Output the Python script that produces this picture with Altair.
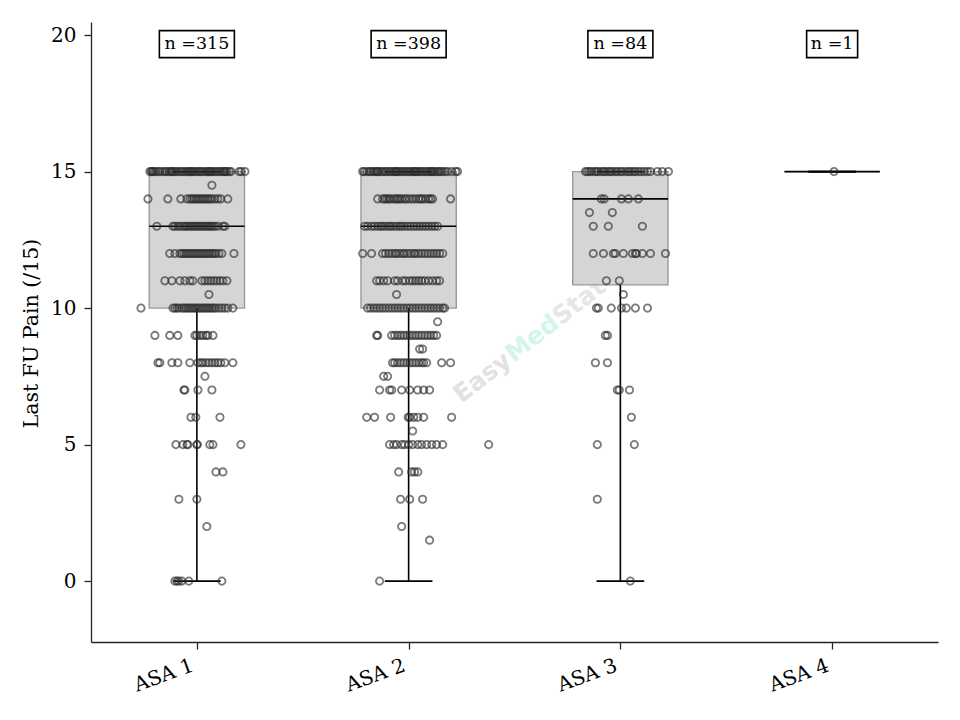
import json
import altair as alt
import pandas as pd

# ---------------- data ----------------
categories = ["ASA 1", "ASA 2", "ASA 3", "ASA 4"]
cat_pos = [1, 2, 3, 4]
n_labels = ["n =315", "n =398", "n =84", "n =1"]
n_label_value = 19.67

box_q1 = [10, 10, 10.85, 15]
box_median = [13, 13, 14, 15]
box_q3 = [15, 15, 15, 15]
whisker_low = [0, 0, 0, 15]
whisker_high = [15, 15, 15, 15]

# jittered points: score -> horizontal jitter (category units)
asa1_points = {
    15: [-0.222, -0.215, -0.205, -0.196, -0.184, -0.175, -0.163, -0.151, -0.144, -0.132, -0.123, -0.113,
         -0.104, -0.095, -0.083, -0.074, -0.066, -0.054, -0.045, -0.038, -0.026, -0.017, -0.009, 0.002,
         0.011, 0.019, 0.028, 0.040, 0.049, 0.057, 0.068, 0.076, 0.087, 0.095, 0.106, 0.114, 0.125,
         0.134, 0.142, 0.153, 0.161, 0.200, 0.210, 0.227, -0.210, -0.120, -0.030, 0.060, 0.130],
    14.5: [0.071],
    14: [-0.231, -0.137, -0.076, -0.047, -0.033, -0.024, -0.014, -0.005, 0.005, 0.014, 0.024, 0.033,
         0.043, 0.052, 0.062, 0.071, 0.085, 0.099, 0.113, 0.146],
    13: [-0.189, -0.113, -0.104, -0.090, -0.080, -0.066, -0.057, -0.047, -0.038, -0.028, -0.019, -0.009,
         0.000, 0.009, 0.019, 0.028, 0.038, 0.047, 0.057, 0.066, 0.076, 0.085, 0.099, 0.123, 0.132],
    12: [-0.128, -0.104, -0.080, -0.071, -0.061, -0.052, -0.043, -0.033, -0.024, -0.014, -0.005, 0.005,
         0.014, 0.024, 0.033, 0.043, 0.052, 0.061, 0.071, 0.080, 0.090, 0.104, 0.118, 0.175],
    11: [-0.151, -0.118, -0.080, -0.057, -0.033, -0.019, 0.024, 0.038, 0.052, 0.066, 0.080, 0.094,
         0.109, 0.123, 0.142],
    10.5: [0.057],
    10: [-0.264, -0.113, -0.104, -0.094, -0.085, -0.071, -0.061, -0.052, -0.043, -0.033, -0.024, -0.014,
         -0.005, 0.005, 0.014, 0.024, 0.033, 0.043, 0.052, 0.061, 0.071, 0.080, 0.090, 0.104, 0.118,
         0.132, 0.146, 0.170],
    9: [-0.198, -0.128, -0.090, -0.009, 0.000, 0.014, 0.028, 0.043, 0.052, 0.076],
    8: [-0.184, -0.175, -0.118, -0.090, -0.033, 0.005, 0.019, 0.028, 0.043, 0.057, 0.071, 0.085, 0.099,
        0.113, 0.132, 0.170],
    7.5: [0.038],
    7: [-0.061, -0.057, 0.005, 0.071],
    6: [-0.028, -0.005, 0.109],
    5: [-0.099, -0.066, -0.047, -0.042, 0.000, 0.002, 0.061, 0.076, 0.208],
    4: [0.090, 0.123],
    3: [-0.085, 0.000],
    2: [0.047],
    0: [-0.104, -0.094, -0.085, -0.071, -0.038, 0.118],
}
asa2_points = {
    15: [-0.217, -0.210, -0.198, -0.186, -0.179, -0.168, -0.160, -0.149, -0.142, -0.130, -0.123, -0.111,
         -0.104, -0.092, -0.085, -0.074, -0.066, -0.055, -0.047, -0.036, -0.028, -0.017, -0.009, 0.002,
         0.009, 0.021, 0.028, 0.040, 0.047, 0.059, 0.066, 0.078, 0.085, 0.097, 0.104, 0.116, 0.123,
         0.135, 0.142, 0.151, 0.160, 0.172, 0.184, 0.203, 0.222, 0.231, -0.150, -0.060, 0.030, 0.110],
    14: [-0.146, -0.123, -0.113, -0.104, -0.094, -0.085, -0.071, -0.061, -0.052, -0.043, -0.033, -0.019,
         -0.009, 0.005, 0.019, 0.033, 0.047, 0.057, 0.066, 0.080, 0.094, 0.104, 0.113, 0.198],
    13: [-0.208, -0.194, -0.175, -0.161, -0.146, -0.132, -0.123, -0.109, -0.094, -0.085, -0.071, -0.057,
         -0.043, -0.033, -0.019, -0.005, 0.009, 0.024, 0.038, 0.052, 0.066, 0.080, 0.094, 0.109, 0.123,
         0.137],
    12: [-0.217, -0.175, -0.123, -0.109, -0.094, -0.080, -0.066, -0.057, -0.043, -0.028, -0.019, -0.005,
         0.009, 0.024, 0.033, 0.047, 0.061, 0.076, 0.090, 0.104, 0.118, 0.132, 0.146, 0.161],
    11: [-0.151, -0.137, -0.118, -0.099, -0.066, -0.052, -0.028, -0.014, 0.005, 0.019, 0.033, 0.047,
         0.061, 0.076, 0.094, 0.113, 0.132, 0.146],
    10.5: [-0.057],
    10: [-0.194, -0.180, -0.165, -0.151, -0.137, -0.123, -0.109, -0.094, -0.080, -0.066, -0.052, -0.038,
         -0.024, -0.009, 0.005, 0.019, 0.033, 0.047, 0.061, 0.076, 0.090, 0.104, 0.118, 0.132, 0.146,
         0.161, 0.170],
    9.5: [0.137],
    9: [-0.151, -0.146, -0.080, -0.066, -0.052, -0.038, -0.024, -0.009, 0.005, 0.019, 0.033, 0.047,
        0.061, 0.076, 0.090, 0.104, 0.118, 0.132],
    8.5: [0.052, 0.066],
    8: [-0.076, -0.066, -0.052, -0.038, -0.024, -0.009, 0.005, 0.019, 0.033, 0.047, 0.061, 0.071, 0.085,
        0.156, 0.198],
    7.5: [-0.118, -0.099],
    7: [-0.137, -0.090, -0.080, -0.033, 0.005, 0.043, 0.071, 0.099],
    6: [-0.198, -0.161, -0.085, -0.002, 0.005, 0.024, 0.043, 0.071, 0.203],
    5.5: [0.019],
    5: [-0.090, -0.071, -0.057, -0.033, -0.019, 0.000, 0.019, 0.043, 0.061, 0.085, 0.109, 0.132, 0.161,
        0.378],
    4: [-0.047, 0.014, 0.028, 0.043],
    3: [-0.038, 0.005, 0.066],
    2: [-0.033],
    1.5: [0.099],
    0: [-0.137],
}
asa3_points = {
    15: [-0.165, -0.156, -0.146, -0.137, -0.123, -0.113, -0.104, -0.090, -0.080, -0.071, -0.057, -0.047,
         -0.038, -0.024, -0.014, 0.000, 0.009, 0.024, 0.038, 0.047, 0.061, 0.071, 0.085, 0.099, 0.113,
         0.128, 0.142, 0.175, 0.198, 0.227],
    14: [-0.090, -0.076, 0.005, 0.038, 0.085],
    13.5: [-0.146, -0.038],
    13: [-0.128, -0.057, 0.104],
    12: [-0.128, -0.080, -0.033, -0.024, 0.014, 0.057, 0.071, 0.076, 0.104, 0.142, 0.213],
    11: [-0.066, -0.005],
    10.5: [0.014],
    10: [-0.113, -0.104, -0.043, 0.005, 0.028, 0.071, 0.128],
    9: [-0.071, -0.061],
    8: [-0.118, -0.061],
    7: [-0.014, -0.005, 0.043],
    6: [0.052],
    5: [-0.109, 0.066],
    3: [-0.109],
    0: [0.047],
}
asa4_points = {15: [0.009]}

# ---------------- tables ----------------
rows = []
for g, pts in zip(cat_pos, [asa1_points, asa2_points, asa3_points, asa4_points]):
    for v, offs in pts.items():
        for o in offs:
            rows.append({"group": g, "value": v, "xpos": g + o})
points_df = pd.DataFrame(rows)

box_df = pd.DataFrame({
    "group": cat_pos, "category": categories, "q1": box_q1, "median": box_median,
    "q3": box_q3, "lo": whisker_low, "hi": whisker_high,
})
labels_df = pd.DataFrame({"group": cat_pos, "label": n_labels, "y": [n_label_value] * 4})

# ---------------- style ----------------
FONT = "DejaVu Serif"
BOX_HALF = 0.225
CAP_HALF = 0.1125
LABEL_BOX_W = [75, 75, 65, 51]
LABEL_BOX_H = 27

x_scale = alt.Scale(domain=[0.5, 4.5], nice=False, zero=False)
y_scale = alt.Scale(domain=[-2.23, 20.48], nice=False, zero=False)

x_axis = alt.Axis(
    values=cat_pos, labelExpr=f"{json.dumps(categories)}[datum.value - 1]",
    labelAngle=340, labelAlign="right", labelBaseline="top", labelOffset=-8,
    labelPadding=6, tickSize=7, grid=False, title=None,
)
y_axis = alt.Axis(
    values=[0, 5, 10, 15, 20], tickSize=7, labelPadding=8, grid=False,
    title="Last FU Pain (/15)", titleX=-54, titleY=311, titleAngle=270,
    titleAlign="center", titleBaseline="alphabetic",
)


def X(field):
    return alt.X(field, type="quantitative", scale=x_scale, axis=x_axis)


def Y(field):
    return alt.Y(field, type="quantitative", scale=y_scale, axis=y_axis)


box_base = alt.Chart(box_df).transform_calculate(
    xl=f"datum.group - {BOX_HALF}", xr=f"datum.group + {BOX_HALF}",
    cl=f"datum.group - {CAP_HALF}", cr=f"datum.group + {CAP_HALF}",
)

boxes = box_base.mark_rect(fill="#d4d5d7", stroke="#999999", strokeWidth=1.4).encode(
    x=X("xl"), x2="xr:Q", y=Y("q1"), y2="q3:Q"
)
whisk_lo = box_base.mark_rule(color="black", strokeWidth=1.6).encode(x=X("group"), y=Y("lo"), y2="q1:Q")
whisk_hi = box_base.mark_rule(color="black", strokeWidth=1.6).encode(x=X("group"), y=Y("q3"), y2="hi:Q")
cap_lo = box_base.mark_rule(color="black", strokeWidth=1.6).encode(x=X("cl"), x2="cr:Q", y=Y("lo"))
cap_hi = box_base.mark_rule(color="black", strokeWidth=1.6).encode(x=X("cl"), x2="cr:Q", y=Y("hi"))
medians = box_base.mark_rule(color="black", strokeWidth=1.6).encode(x=X("xl"), x2="xr:Q", y=Y("median"))

points = alt.Chart(points_df).mark_point(
    shape="circle", filled=False, size=54, strokeWidth=1.8, color="#2a2a2a", opacity=0.62
).encode(x=X("xpos"), y=Y("value"))

label_boxes = []
for lab, w in zip(n_labels, LABEL_BOX_W):
    hh = LABEL_BOX_H / w
    path = f"M-1,-{hh:.4f}H1V{hh:.4f}H-1Z"
    label_boxes.append(
        alt.Chart(labels_df).transform_filter(alt.datum.label == lab).mark_point(
            shape=path, size=w * w, filled=False, color="black", strokeWidth=1.6, opacity=1
        ).encode(x=X("group"), y=Y("y"))
    )
label_text = alt.Chart(labels_df).mark_text(
    font=FONT, fontSize=17.5, color="black", align="center", baseline="middle"
).encode(x=X("group"), y=Y("y"), text="label:N")

# faint watermark
wm_df = pd.DataFrame({"x": [2.25], "y": [6.50]})
wm_layers = []
for txt, col, dx in [("Easy", "#e2e2e2", 0), ("Med", "#d3f6ea", 66), ("Stat", "#e6e6e6", 126)]:
    wm_layers.append(
        alt.Chart(wm_df).mark_text(
            text=txt, font="DejaVu Sans", fontWeight="bold", fontSize=25, color=col,
            angle=322, align="left", baseline="alphabetic", dx=dx
        ).encode(x=X("x"), y=Y("y"))
    )

chart = alt.layer(
    *wm_layers, boxes, whisk_lo, whisk_hi, cap_lo, cap_hi, medians, points, *label_boxes, label_text
).properties(
    width=847, height=620,
    autosize=alt.AutoSizeParams(type="none"),
    padding={"left": 83, "top": 14, "right": 10, "bottom": 60},
).configure_view(stroke=None).configure_axis(
    domainColor="#262626", domainWidth=1.3, tickColor="#262626", tickWidth=1.3,
    labelFont=FONT, labelFontSize=20, labelColor="black",
    titleFont=FONT, titleFontSize=20.5, titleFontWeight="normal", titleColor="black",
)

chart.save("out.html", embed_options={"renderer": "svg", "actions": False})
